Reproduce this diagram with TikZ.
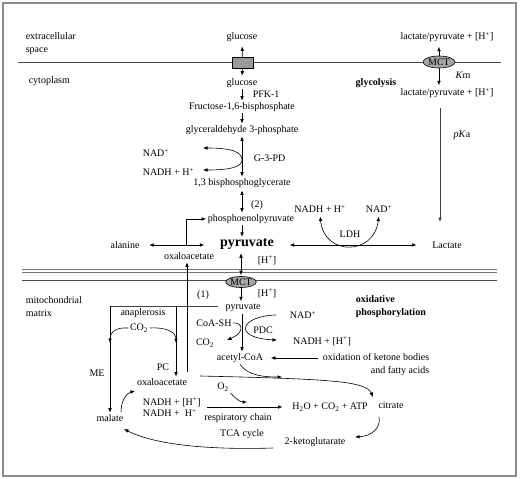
\documentclass[tikz,border=0pt]{standalone}
\usepackage{fontspec}
\setmainfont{Liberation Serif}
\usetikzlibrary{arrows.meta,shapes.geometric}
\begin{document}
\begin{tikzpicture}[x=1pt,y=-1pt,
  every node/.style={inner sep=1.5pt, font=\fontsize{10}{13}\selectfont},
  every path/.style={line width=0.6pt},
  arr/.style={-{Latex[length=4.5pt,width=3.6pt]}},
  darr/.style={{Latex[length=4.5pt,width=3.6pt]}-{Latex[length=4.5pt,width=3.6pt]}},
  mem/.style={draw=black!70, line width=0.8pt},
  mct/.style={ellipse, draw=black, fill=black!35, inner sep=0pt},
  boldlbl/.style={font=\fontsize{10}{13}\selectfont\bfseries}]
\useasboundingbox (0,0) rectangle (520,479);
\draw[black!45, line width=1.6pt] (3,3) rectangle (516,476);

% ---- plasma membrane
\coordinate (m1l) at (18,62); \coordinate (m1r) at (501,62);
\draw[mem] (m1l) -- (m1r);
\node[draw=black, fill=black!40, minimum width=21pt, minimum height=11pt, inner sep=0pt] (glut) at (242.5,62.5) {};
\node[mct, minimum width=32pt, minimum height=12pt] (mct1) at (439,62) {MCT};

% ---- labels top
\node[anchor=west, align=left] (ecs) at (24,43.5) {extracellular\\space};
\node[anchor=west] (cyto) at (27,81) {cytoplasm};
\node (glc1) at (242,37) {glucose};
\node (glc2) at (242,83) {glucose};
\node[anchor=west] (pfk) at (251,94) {PFK-1};
\node (f16) at (242,107) {Fructose-1,6-bisphosphate};
\node (g3p) at (242,130) {glyceraldehyde 3-phosphate};
\node[anchor=west] (g3pd) at (252,158) {G-3-PD};
\node[anchor=west] (nad1) at (141,153) {NAD\textsuperscript{+}};
\node[anchor=west] (nadh1) at (141,172) {NADH + H\textsuperscript{+}};
\node (bpg) at (242,183) {1,3 bisphosphoglycerate};
\node (two) at (257,205) {(2)};
\node (pep) at (251,219) {phosphoenolpyruvate};
\node[font=\fontsize{14}{16}\selectfont\bfseries] (pyr) at (247,244) {pyruvate};
\node (ala) at (125,245) {alanine};
\node (oaa1) at (189,256) {oxaloacetate};
\node (hc) at (267,260) {[H\textsuperscript{+}]};
\node (nadhL) at (320,209) {NADH + H\textsuperscript{+}};
\node (nadL) at (379,209) {NAD\textsuperscript{+}};
\node (ldh) at (350,234) {LDH};
\node (lac) at (447,245) {Lactate};
\node (lp1) at (447,37) {lactate/pyruvate + [H\textsuperscript{+}]};
\node (lp2) at (447,93) {lactate/pyruvate + [H\textsuperscript{+}]};
\node (km) at (463,75) {\textit{K}m};
\node (pka) at (462,135) {\textit{pK}a};
\node[boldlbl] (glyco) at (376,83) {glycolysis};

% ---- mitochondrial membrane
\draw[black!55, line width=0.5pt] (22,269) -- (497,269);
\draw[black!55, line width=0.5pt] (22,271.8) -- (497,271.8);
\draw[mem] (22,280) -- (497,280);
\node[mct, minimum width=28pt, minimum height=11pt] (mct2) at (241,282) {MCT};

% ---- mitochondria labels
\node (hm) at (267,293) {[H\textsuperscript{+}]};
\node (one) at (203,295) {(1)};
\node[anchor=west, align=left] (mm) at (24,306.5) {mitochondrial\\matrix};
\node (pyr2) at (243,308) {pyruvate};
\node (anap) at (143,313) {anaplerosis};
\node (co2a) at (139,328) {CO\textsubscript{2}};
\node (pc) at (163,367) {PC};
\node (me) at (97,373) {ME};
\node (oaa2) at (162,382) {oxaloacetate};
\node (mal) at (110,418) {malate};
\node[anchor=west] (nadh2) at (141,402) {NADH + [H\textsuperscript{+}]};
\node[anchor=west] (nadh3) at (141,413) {NADH +\ \ H\textsuperscript{+}};
\node (o2) at (223,387) {O\textsubscript{2}};
\node (resp) at (238,418) {respiratory chain};
\node (h2o) at (330,407) {H\textsubscript{2}O + CO\textsubscript{2} + ATP};
\node (cit) at (391,405) {citrate};
\node (akg) at (315,442) {2-ketoglutarate};
\node (tca) at (242,434) {TCA cycle};
\node (coa) at (214,323) {CoA-SH};
\node (co2b) at (205,343) {CO\textsubscript{2}};
\node (pdc) at (263,330) {PDC};
\node (nad2) at (303,315) {NAD\textsuperscript{+}};
\node (nadh4) at (322,341) {NADH + [H\textsuperscript{+}]};
\node (acoa) at (240,358) {acetyl-CoA};
\node[anchor=west, align=right] (keto) at (321,365) {oxidation of ketone bodies\\and fatty acids};
\node[anchor=west, align=left, boldlbl] (oxph) at (354,306.5) {oxidative\\phosphorylation};

% ---- coordinates for free ends
\coordinate (col) at (242,0);
\coordinate (gk) at (242,160);
\coordinate (nadtip) at (203,148);
\coordinate (nadhtip) at (203,170);
\coordinate (oaaJ) at (186,245);
\coordinate (oaaB) at (187,372);
\coordinate (lvtop) at (440,108);
\coordinate (lvbot) at (440,222);
\coordinate (brR) at (218,306);
\coordinate (brL) at (110,306);
\coordinate (brM) at (176,306);
\coordinate (co2L) at (110,343);
\coordinate (co2R) at (176,343);
\coordinate (malS) at (121,412);
\coordinate (malT) at (135,391);
\coordinate (ocS) at (200,376);
\coordinate (citT) at (373,397);
\coordinate (acT) at (282,377);
\coordinate (o2T) at (247,402);
\coordinate (rsS) at (207,407);
\coordinate (citS) at (379,417);
\coordinate (akgT) at (355,437);
\coordinate (akgS) at (273,448);
\coordinate (malT2) at (124,429);
\coordinate (coaT) at (227,340);
\coordinate (nadS) at (276,315);
\coordinate (nadhT) at (277,340);
\coordinate (ketS) at (318,358);

% ---- glycolysis connectors
\draw[arr, shorten >=3pt] (glut.north) -- (glc1.south);
\draw[arr, shorten >=1pt] (glut.south) -- (glc2.north);
\draw[arr, shorten >=3pt] (mct1.north) -- (mct1.north |- lp1.south);
\draw[arr, shorten >=1pt] (mct1.south) -- (mct1.south |- lp2.north);
\draw[arr] (glc2.south) -- (f16.north);
\draw[arr] (f16.south) -- (g3p.north);
\draw[darr] (g3p.south) -- (bpg.north);
\draw[darr, shorten <=1pt] (bpg.south) -- (bpg.south |- pep.north);
\draw[arr] (pep.south -| col) -- (pyr.north -| col);
\draw[darr] (nadtip) .. controls (232,148) and (242,152) .. (gk) .. controls (242,167) and (230,170) .. (nadhtip);
\draw[darr, shorten <=8pt, shorten >=14pt] (ala.east) -- (pyr.west |- ala.east);
\draw[arr] (oaaJ) |- (pep.west);
\draw[arr, shorten >=1pt] (oaaB) -- (oaaB |- oaa1.south);
\draw[darr, shorten <=2pt, shorten >=1pt] (mct2.north |- pyr.south) -- (mct2.north);
\draw[arr, shorten >=1pt] (mct2.south) -- (mct2.south |- pyr2.north);
\draw[darr, shorten <=14pt, shorten >=14pt] (pyr.east |- lac.west) -- (lac.west);
\draw[darr, shorten <=2pt, shorten >=2pt] (nadhL.south) .. controls (324,256) and (374,256) .. (nadL.south);
\draw[arr, black!75] (lvtop) -- (lvbot);

% ---- mitochondria connectors
\draw[black!75] (brR) -- (brL);
\draw[arr] (brL) -- (mal.north);
\draw[arr] (brM) -- (brM |- oaa2.north);
\draw[arr] (co2a.west) .. controls (115,327) and (110,333) .. (co2L);
\draw[arr] (co2a.east) .. controls (168,327) and (176,333) .. (co2R);
\draw[arr] (malS) .. controls (121,400) and (127,393) .. (malT);
\draw[arr] (ocS) .. controls (330,379) and (366,381) .. (citT);
\draw[arr] (acoa.south) .. controls (248,376) and (265,377) .. (acT);
\draw[arr] (o2.south east) .. controls (236,399) and (240,402) .. (o2T);
\draw[arr, shorten >=8pt] (rsS) -- (h2o.west);
\draw[arr] (citS) .. controls (381,428) and (372,436) .. (akgT);
\draw[arr] (akgS) .. controls (210,450) and (155,445) .. (malT2);
\draw[arr] (pyr2.south -| col) -- (acoa.north -| col);
\draw[arr] (coa.east) .. controls (242,322) and (246,332) .. (coaT);
\draw[arr] (nadS) .. controls (240,316) and (232,338) .. (nadhT);
\draw[arr, shorten >=6pt] (ketS) -- (acoa.east);
\end{tikzpicture}
\end{document}
